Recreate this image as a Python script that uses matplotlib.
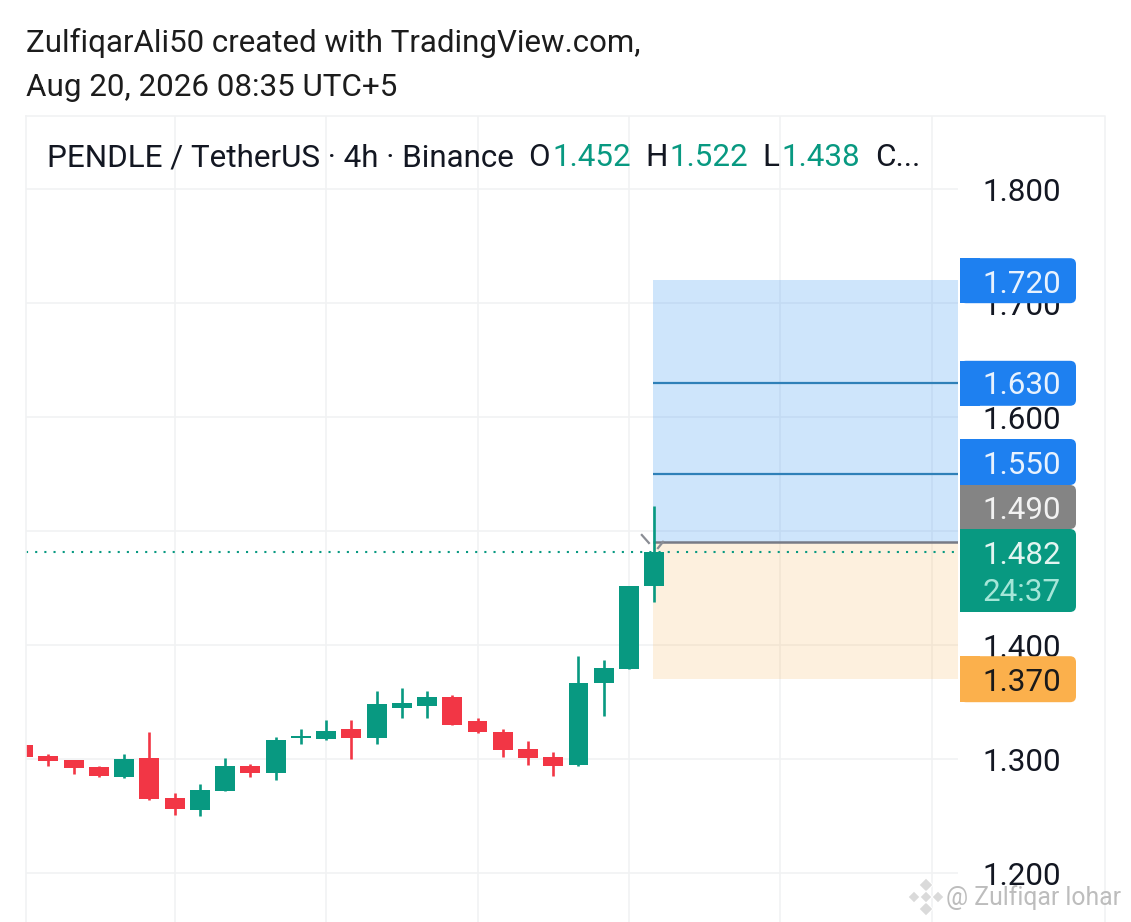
"""PENDLE / TetherUS 4h chart with long position tool, TradingView look."""
import matplotlib
matplotlib.use('Agg')
import matplotlib.pyplot as plt
from matplotlib.patches import FancyBboxPatch, Rectangle, Polygon

# candles, oldest first
opens = [1.3123, 1.3026, 1.2991, 1.2930, 1.2845, 1.3009, 1.2658, 1.2556, 1.2722, 1.2939,
         1.2880, 1.3184, 1.3176, 1.3263, 1.3187, 1.3450, 1.3468, 1.3544, 1.3333, 1.3237,
         1.3088, 1.3018, 1.2950, 1.3667, 1.3789, 1.452]
highs = [1.3123, 1.3044, 1.2991, 1.2939, 1.3044, 1.3237, 1.2699, 1.2778, 1.3009, 1.2956,
         1.3193, 1.3263, 1.3342, 1.3342, 1.3597, 1.3623, 1.3597, 1.3559, 1.3360, 1.3263,
         1.3158, 1.3062, 1.3904, 1.3868, 1.4518, 1.522]
lows = [1.3021, 1.2939, 1.2868, 1.2842, 1.2836, 1.2643, 1.2509, 1.2503, 1.2722, 1.2842,
        1.2819, 1.3132, 1.3167, 1.3000, 1.3132, 1.3360, 1.3360, 1.3301, 1.3228, 1.3021,
        1.2947, 1.2851, 1.2942, 1.3377, 1.3789, 1.438]
closes = [1.3021, 1.2985, 1.2924, 1.2854, 1.3000, 1.2652, 1.2564, 1.2728, 1.2939, 1.2880,
          1.3167, 1.3202, 1.3246, 1.3187, 1.3483, 1.3491, 1.3544, 1.3301, 1.3240, 1.3082,
          1.3012, 1.2942, 1.3667, 1.3798, 1.4518, 1.482]

y_ticks = [1.2, 1.3, 1.4, 1.5, 1.6, 1.7, 1.8]
x_grid = [6, 12, 18, 24, 30, 36]

target_top = 1.72
target_lines = [1.63, 1.55]
entry = 1.49
stop = 1.37
last_price = 1.482
countdown = '24:37'

GREEN = '#089981'
RED = '#F23645'
GRID = '#F1F2F3'
W, H = 1131, 922
FS = 22.6

plt.rcParams['font.family'] = ['Roboto', 'DejaVu Sans']
fig = plt.figure(figsize=(W / 100, H / 100), dpi=100, facecolor='white')

# price pane: 25.24 px per candle, 1140 px per 1.0 of price
ax = fig.add_axes([26 / W, 0, (958 - 26) / W, (922 - 116) / H])
ax.set_xlim((26 - 23.2) / 25.24, (958 - 23.2) / 25.24)
ax.set_ylim(1.8 - 733 / 1140, 1.8 + 73 / 1140)
ax.set_yticks(y_ticks)
ax.set_yticklabels([f'{v:.3f}' for v in y_ticks], fontsize=FS, color='#131722')
ax.set_xticks(x_grid)
ax.set_xticklabels([])
ax.yaxis.tick_right()
ax.tick_params(length=0)
ax.tick_params(axis='y', pad=17.5)
ax.grid(True, color=GRID, lw=1.2, zorder=0)
ax.set_axisbelow(True)
for name, sp in ax.spines.items():
    sp.set_visible(False)

# position tool
x0, x1 = 24.96, ax.get_xlim()[1]
ax.add_patch(Rectangle((x0, entry), x1 - x0, target_top - entry, fc='#2E8FF2', alpha=0.23, lw=0, zorder=1))
ax.add_patch(Rectangle((x0, stop), x1 - x0, entry - stop, fc='#F9A93C', alpha=0.17, lw=0, zorder=1))
ax.hlines(target_lines, x0, x1, color='#2F80B8', lw=1.6, zorder=2)
ax.hlines(entry, x0, x1, color='#787B86', lw=1.8, zorder=2)
ax.plot([24.51, 24.79], [1.4965, 1.4895], color='#8A8D94', lw=1.6, zorder=2)
ax.plot([25.35, 25.15], [1.4905, 1.4850], color='#8A8D94', lw=1.6, zorder=2)
ax.axhline(last_price, color=GREEN, lw=1.5, ls=(0, (1, 3.4)), zorder=2)

# candles
for i, (o, h, l, c) in enumerate(zip(opens, highs, lows, closes)):
    col = GREEN if c >= o else RED
    ax.vlines(i, l, h, color=col, lw=1.9, zorder=3)
    ax.bar(i, abs(c - o), bottom=min(o, c), width=0.79, color=col, lw=0, zorder=3)

# overlay in pixel coordinates for header, price labels and watermark
ov = fig.add_axes([0, 0, 1, 1], facecolor='none')
ov.set_xlim(0, W)
ov.set_ylim(H, 0)
ov.axis('off')
ov.plot([26, 1105, 1105], [116, 116, 922], color=GRID, lw=1.2)
ov.plot([26, 26], [116, 922], color=GRID, lw=1.2)


def price_px(v):
    return 189 + (1.8 - v) * 1140


def price_box(top, bottom, color, lines, text_colors):
    ov.add_patch(FancyBboxPatch((964, top + 4), 108, bottom - top - 8, boxstyle='round,pad=4,rounding_size=6',
                                fc=color, ec='none', zorder=5))
    ov.add_patch(Rectangle((960, top), 20, bottom - top, fc=color, ec='none', zorder=5))
    for (yy, s), tc in zip(lines, text_colors):
        ov.text(1022, yy, s, fontsize=FS, color=tc, ha='center', va='center', zorder=6)


price_box(price_px(target_top) - 22, price_px(target_top) + 23, '#1E80F0', [(price_px(target_top) + 4, f'{target_top:.3f}')], ['#E8F2FE'])
price_box(price_px(target_lines[0]) - 22, price_px(target_lines[0]) + 23, '#1E80F0', [(price_px(target_lines[0]) + 3, f'{target_lines[0]:.3f}')], ['#E8F2FE'])
price_box(439, 485, '#1E80F0', [(465, f'{target_lines[1]:.3f}')], ['#E8F2FE'])
price_box(485, 529, '#848484', [(510, f'{entry:.3f}')], ['#F2F2F2'])
price_box(529, 612, GREEN, [(555, f'{last_price:.3f}'), (592, countdown)], ['#E3F5F1', '#A5E6D8'])
price_box(price_px(stop) - 23, price_px(stop) + 23, '#FBB04C', [(price_px(stop) + 3, f'{stop:.3f}')], ['#1A1A1A'])

# header
ov.text(26, 43, 'ZulfiqarAli50 created with TradingView.com,', fontsize=FS - 0.1, color='#1C1C1C', va='center')
ov.text(26, 87, 'Aug 20, 2026 08:35 UTC+5', fontsize=FS, color='#1C1C1C', va='center')
ov.text(47, 158, 'PENDLE / TetherUS · 4h · Binance', fontsize=FS, color='#131722', va='center')
for xt, s, col in [(528, 'O', '#131722'), (552, f'{opens[-1]:.3f}', GREEN), (645, 'H', '#131722'),
                   (669, f'{highs[-1]:.3f}', GREEN), (762, 'L', '#131722'),
                   (781, f'{lows[-1]:.3f}', GREEN), (875, 'C...', '#131722')]:
    ov.text(xt, 158, s, fontsize=FS, color=col, va='center')

# watermark
for cx, cy, r in [(926, 885, 7), (926, 909, 7), (914, 897, 6), (938, 897, 6), (926, 897, 6)]:
    ov.add_patch(Polygon([(cx - r, cy), (cx, cy - r), (cx + r, cy), (cx, cy + r)], fc='#DADADA', ec='white', lw=0.8, zorder=6))
ov.text(946, 898, '@ Zulfiqar lohar', fontsize=17.8, color='#BDBDBD', va='center', zorder=6)

fig.savefig('out.png', dpi=100, facecolor='white')
